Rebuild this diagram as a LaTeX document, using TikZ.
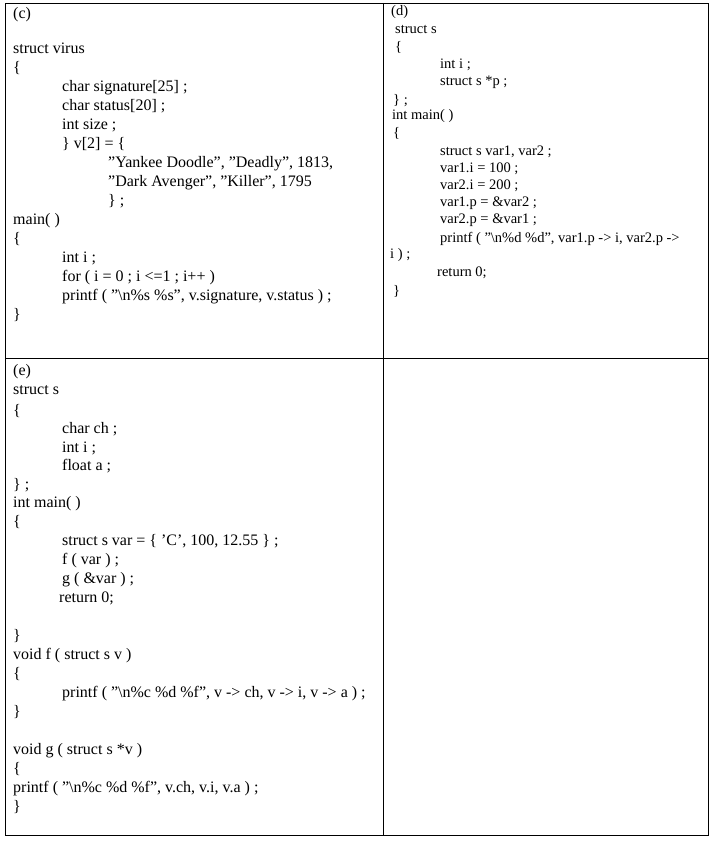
\documentclass[tikz,border=0pt]{standalone}
\usepackage{fontspec}
\setmainfont{Liberation Serif}
\newcommand{\dq}{\symbol{34}}
\newcommand{\sq}{\symbol{39}}
\begin{document}
\begin{tikzpicture}[x=1pt,y=-1pt,
  big/.style={anchor=west,inner sep=0pt,font=\fontsize{16}{18}\selectfont},
  sml/.style={anchor=west,inner sep=0pt,font=\fontsize{14.5}{16}\selectfont},
  yshift=-1.5pt]
\useasboundingbox (0,-1.5) rectangle (715,841.5);
\draw[line width=0.8pt] (5,1.5) rectangle (708,833.5);
\draw[line width=0.8pt] (383,1.5) -- (383,833.5);
\draw[line width=0.8pt] (5,356.5) -- (708,356.5);
% (c)
\node[big] (c0) at (13,13) {(c)};
\node[big] (c1) at (13,47) {struct virus};
\node[big] (c2) at (13,67) {\{};
\node[big] (c3) at (62,86) {char signature[25] ;};
\node[big] (c4) at (62,105) {char status[20] ;};
\node[big] (c5) at (62,124) {int size ;};
\node[big] (c6) at (62,143) {\} v[2] = \{};
\node[big] (c7) at (108,162) {\dq Yankee Doodle\dq, \dq Deadly\dq, 1813,};
\node[big] (c8) at (108,181) {\dq Dark Avenger\dq, \dq Killer\dq, 1795};
\node[big] (c9) at (108,200) {\} ;};
\node[big] (c10) at (13,219) {main( )};
\node[big] (c11) at (13,238) {\{};
\node[big] (c12) at (62,257) {int i ;};
\node[big] (c13) at (62,276) {for ( i = 0 ; i <=1 ; i++ )};
\node[big] (c14) at (62,295) {printf ( \dq\textbackslash n\%s \%s\dq, v.signature, v.status ) ;};
\node[big] (c15) at (13,314) {\}};
% (d)
\node[sml] (d0) at (391,11) {(d)};
\node[sml] (d1) at (395,28) {struct s};
\node[sml] (d2) at (395,46) {\{};
\node[sml] (d3) at (440,63) {int i ;};
\node[sml] (d4) at (440,81) {struct s *p ;};
\node[sml] (d5) at (393,99) {\} ;};
\node[sml] (d6) at (392,115) {int main( )};
\node[sml] (d7) at (393,132) {\{};
\node[sml] (d8) at (440,150) {struct s var1, var2 ;};
\node[sml] (d9) at (440,167) {var1.i = 100 ;};
\node[sml] (d10) at (440,184) {var2.i = 200 ;};
\node[sml] (d11) at (440,202) {var1.p = \&var2 ;};
\node[sml] (d12) at (440,219) {var2.p = \&var1 ;};
\node[sml] (d13) at (440,237) {printf ( \dq\textbackslash n\%d \%d\dq, var1.p -> i, var2.p ->};
\node[sml] (d14) at (390,254) {i ) ;};
\node[sml] (d15) at (437,271) {return 0;};
\node[sml] (d16) at (393,290) {\}};
% (e)
\node[big] (e0) at (13,370) {(e)};
\node[big] (e1) at (13,389) {struct s};
\node[big] (e2) at (13,410) {\{};
\node[big] (e3) at (62,428) {char ch ;};
\node[big] (e4) at (62,447) {int i ;};
\node[big] (e5) at (62,465) {float a ;};
\node[big] (e6) at (13,484) {\} ;};
\node[big] (e7) at (13,502) {int main( )};
\node[big] (e8) at (13,521) {\{};
\node[big] (e9) at (62,540) {struct s var = \{ \sq C\sq, 100, 12.55 \} ;};
\node[big] (e10) at (62,559) {f ( var ) ;};
\node[big] (e11) at (62,578) {g ( \&var ) ;};
\node[big] (e12) at (59,597) {return 0;};
\node[big] (e13) at (13,635) {\}};
\node[big] (e14) at (13,654) {void f ( struct s v )};
\node[big] (e15) at (13,673) {\{};
\node[big] (e16) at (62,692) {printf ( \dq\textbackslash n\%c \%d \%f\dq, v -> ch, v -> i, v -> a ) ;};
\node[big] (e17) at (13,711) {\}};
\node[big] (e18) at (13,749) {void g ( struct s *v )};
\node[big] (e19) at (13,768) {\{};
\node[big] (e20) at (13,787) {printf ( \dq\textbackslash n\%c \%d \%f\dq, v.ch, v.i, v.a ) ;};
\node[big] (e21) at (13,806) {\}};
\end{tikzpicture}
\end{document}
